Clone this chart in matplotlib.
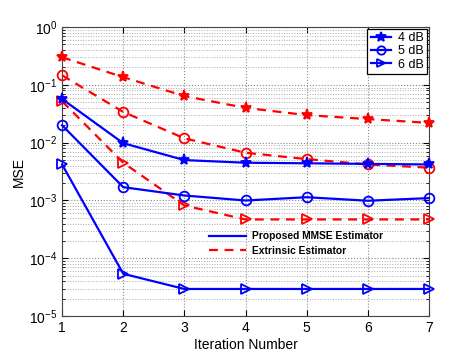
import matplotlib
matplotlib.use("Agg")
import matplotlib.pyplot as plt
from matplotlib.lines import Line2D
from matplotlib.ticker import LogLocator, NullFormatter

plt.rcParams['font.family'] = ['Liberation Sans', 'DejaVu Sans']

iterations = [1, 2, 3, 4, 5, 6, 7]
snr_labels = ['4 dB', '5 dB', '6 dB']
markers = ['*', 'o', '>']

proposed = {
    '4 dB': [0.057, 0.0098, 0.0050, 0.0045, 0.0044, 0.0043, 0.0042],
    '5 dB': [0.020, 0.0017, 0.00122, 0.0010, 0.00114, 0.00099, 0.0011],
    '6 dB': [0.0042, 5.4e-5, 2.95e-5, 2.95e-5, 2.95e-5, 2.95e-5, 2.95e-5],
}
extrinsic = {
    '4 dB': [0.30, 0.136, 0.064, 0.040, 0.030, 0.0256, 0.022],
    '5 dB': [0.146, 0.034, 0.0119, 0.0067, 0.0052, 0.0042, 0.0037],
    '6 dB': [0.052, 0.0045, 0.00082, 0.00047, 0.00047, 0.00047, 0.00047],
}

blue = '#0000ff'
red = '#ff0000'

fig = plt.figure(figsize=(4.74, 3.56), dpi=100)
ax = fig.add_axes([0.131, 0.112, 0.774, 0.812])

for lab, m in zip(snr_labels, markers):
    ax.semilogy(iterations, extrinsic[lab], color=red, linestyle='--', dashes=(4, 3),
                linewidth=1.6, marker=m, markersize=8 if m == '*' else 7,
                markerfacecolor=(red if m == '*' else 'none'), markeredgecolor=red,
                markeredgewidth=1.3, clip_on=False, zorder=3)
for lab, m in zip(snr_labels, markers):
    ax.semilogy(iterations, proposed[lab], color=blue, linestyle='-',
                linewidth=1.6, marker=m, markersize=8 if m == '*' else 7,
                markerfacecolor=(blue if m == '*' else 'none'), markeredgecolor=blue,
                markeredgewidth=1.3, clip_on=False, zorder=4)

ax.set_xlim(1, 7)
ax.set_ylim(1e-5, 1)
ax.set_xticks(iterations)
ax.yaxis.set_major_locator(LogLocator(base=10, numticks=10))
ax.yaxis.set_minor_locator(LogLocator(base=10, subs=range(2, 10), numticks=20))
ax.yaxis.set_minor_formatter(NullFormatter())
ax.grid(True, which='major', linestyle=':', color='#888888', linewidth=0.8)
ax.grid(True, which='minor', axis='y', linestyle=':', color='#aaaaaa', linewidth=0.7)
ax.tick_params(axis='both', which='both', direction='in', top=True, right=True, labelsize=10)
ax.tick_params(which='major', length=4)
ax.tick_params(which='minor', length=2)
for s in ax.spines.values():
    s.set_color('#444444')
    s.set_linewidth(0.8)

ax.set_xlabel('Iteration Number', fontsize=10, labelpad=2)
ax.set_ylabel('MSE', fontsize=10, labelpad=2)

h1 = [Line2D([], [], color=blue, linewidth=1.6, marker=m,
             markersize=7 if m == '*' else 6,
             markerfacecolor=(blue if m == '*' else 'none'), markeredgecolor=blue,
             markeredgewidth=1.3) for m in markers]
leg1 = ax.legend(h1, snr_labels, loc='upper right', fontsize=9, frameon=True,
                 fancybox=False, edgecolor='black', framealpha=1,
                 borderaxespad=0.15, handlelength=1.6, labelspacing=0.1,
                 borderpad=0.25, handletextpad=0.6)
leg1.get_frame().set_linewidth(0.9)
ax.add_artist(leg1)

h2 = [Line2D([], [], color=blue, linewidth=1.6, linestyle='-'),
      Line2D([], [], color=red, linewidth=1.6, linestyle='--', dashes=(4, 3))]
leg2 = ax.legend(h2, ['Proposed MMSE Estimator', 'Extrinsic Estimator'],
                 loc='upper left', bbox_to_anchor=(0.375, 0.325), frameon=False,
                 prop={'weight': 'bold', 'size': 7.4}, handlelength=3.6,
                 labelspacing=0.45, handletextpad=0.6)

fig.savefig('out.png', dpi=100)
